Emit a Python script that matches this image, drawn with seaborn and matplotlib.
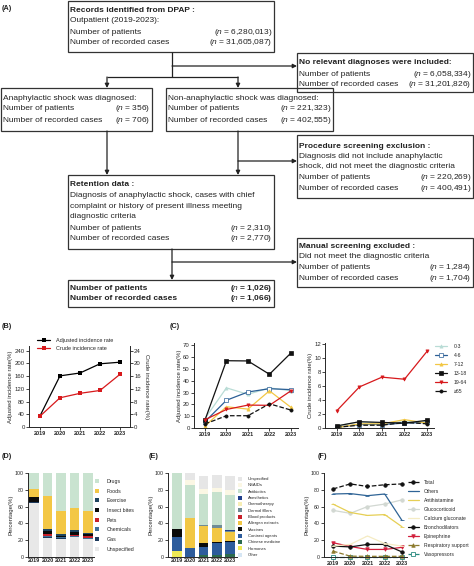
import matplotlib
matplotlib.use("Agg")
import matplotlib.pyplot as plt
import seaborn as sns
import numpy as np
import pandas as pd
from matplotlib.lines import Line2D
from matplotlib.patches import Rectangle

# ---------------- datos ----------------
years = [2019, 2020, 2021, 2022, 2023]
year_labels = ['2019', '2020', '2021', '2022', '2023']

# (B) tasas globales
adjusted_rate = [35, 161, 170, 199, 204]
crude_rate = [3.4, 9.2, 10.6, 11.5, 16.6]

# (C) por grupo de edad
age_groups = ['0-3', '4-6', '7-12', '13-18', '19-64', '≥65']
adjusted_by_age = {
    '0-3': [8, 34, 28.5, 34, 31.5],
    '4-6': [5.3, 23.5, 30.5, 33.3, 32.5],
    '7-12': [1.7, 18, 16, 31.5, 17.5],
    '13-18': [6.7, 57, 56.8, 45.5, 63.5],
    '19-64': [7, 15.7, 19.4, 19.2, 31.5],
    '≥65': [3.4, 10.4, 10.4, 20.5, 15.2],
}
crude_by_age = {
    '0-3': [0.3, 0.9, 0.7, 0.9, 0.9],
    '4-6': [0.1, 0.5, 0.5, 0.7, 0.8],
    '7-12': [0.05, 0.6, 0.6, 1.2, 0.7],
    '13-18': [0.3, 0.9, 0.8, 0.7, 1.1],
    '19-64': [2.5, 5.9, 7.3, 7.0, 11.0],
    '≥65': [0.1, 0.4, 0.4, 0.8, 0.6],
}

# (D) desencadenantes (orden de abajo hacia arriba)
trigger_names = ['Unspecified', 'Gas', 'Chemicals', 'Pets', 'Insect bites', 'Exercise', 'Foods', 'Drugs']
trigger_pct = {
    'Unspecified': [64.5, 22.8, 21.5, 24, 21],
    'Gas': [1, 1.2, 1, 0, 1],
    'Chemicals': [0, 1.2, 1.5, 0.5, 1],
    'Pets': [0, 2, 0, 1.5, 2],
    'Insect bites': [6.5, 4, 1.5, 4, 2],
    'Exercise': [0, 2, 1.5, 2, 2],
    'Foods': [9, 39.6, 28, 26, 26],
    'Drugs': [19, 27.2, 45, 42, 45],
}

# (E) farmacos (orden de abajo hacia arriba)
drug_names = ['Other', 'Hormones', 'Chinese medicine', 'Contrast agents', 'Vaccines',
              'Allergen extracts', 'Blood products', 'Dermal fillers', 'Chemotherapy',
              'Anesthetics', 'Antibiotics', 'NSAIDs', 'Unspecified']
drug_pct = {
    'Other': [0, 0, 0, 0, 0],
    'Hormones': [7, 0, 0, 0.5, 0],
    'Chinese medicine': [0, 0, 2, 1.5, 3],
    'Contrast agents': [17, 11, 10, 15, 15],
    'Vaccines': [9, 0, 5, 1, 1],
    'Allergen extracts': [0, 35, 20, 16, 11],
    'Blood products': [0, 0, 0, 0, 0.3],
    'Dermal fillers': [0, 0, 1, 4, 1],
    'Chemotherapy': [0, 0, 0, 0, 0],
    'Anesthetics': [0, 0, 0, 0, 0.8],
    'Antibiotics': [67, 40, 37, 39, 42],
    'NSAIDs': [0, 6, 6, 5, 6],
    'Unspecified': [0, 8, 15.5, 16, 15.9],
}

# (F) tratamientos
treat_names = ['Total', 'Others', 'Antihistamine', 'Glucocorticoid', 'Calcium gluconate',
               'Bronchodilators', 'Epinephrine', 'Respiratory support', 'Vasopressors']
treat_pct = {
    'Total': [81, 87, 84, 86, 87],
    'Others': [75, 75.5, 73, 75, 43.5],
    'Antihistamine': [63, 53, 49.5, 50.5, 36],
    'Glucocorticoid': [55.5, 52, 60, 63, 68],
    'Calcium gluconate': [13, 15, 25, 16, 13],
    'Bronchodilators': [13, 12, 15, 15, 6],
    'Epinephrine': [17, 12.5, 9, 9, 11.5],
    'Respiratory support': [7, 1, 0.8, 0.8, 0.8],
    'Vasopressors': [0, 0, 0, 0, 0],
}

# ---------------- estilo ----------------
sns.set_theme(style='ticks')
plt.rcParams['font.family'] = ['Liberation Sans', 'DejaVu Sans']
plt.rcParams['mathtext.fontset'] = 'custom'
plt.rcParams['mathtext.it'] = 'Liberation Sans:italic'
plt.rcParams['mathtext.rm'] = 'Liberation Sans'
plt.rcParams['axes.linewidth'] = 0.7

W, H = 474, 566
fig = plt.figure(figsize=(W / 100, H / 100), dpi=100, facecolor='white')


def px_axes(x0, y0, x1, y1):
    return fig.add_axes([x0 / W, 1 - y1 / H, (x1 - x0) / W, (y1 - y0) / H])


def style(ax, fs=4.3):
    ax.tick_params(labelsize=fs, length=2, width=0.6, pad=1)
    for s in ax.spines.values():
        s.set_linewidth(0.7)
    sns.despine(ax=ax)


def year_ticks(ax, pos, fs=4):
    ax.set_xticks(pos)
    ax.set_xticklabels(year_labels, fontsize=fs, fontweight='bold')


def fig_legend(ax, handles, labels, x, y, fs, spacing, hlen=2.0, pad=0.8):
    return ax.legend(handles, labels, loc='upper left', bbox_to_anchor=(x / W, 1 - y / H),
                     bbox_transform=fig.transFigure, frameon=False, fontsize=fs,
                     labelspacing=spacing, handlelength=hlen, handletextpad=pad,
                     borderpad=0, borderaxespad=0)


# ---------------- (A) diagrama de flujo ----------------
ax0 = fig.add_axes([0, 0, 1, 1])
ax0.set_xlim(0, W)
ax0.set_ylim(H, 0)
ax0.axis('off')

FS_BOX = 6.0
boxes = [
    ((68, 0.5, 274, 52), [(10, 'Records identified from DPAP :', None, True),
                          (21, 'Outpatient (2019-2023):', None, False),
                          (32, 'Number of patients', '6,280,013', False),
                          (43, 'Number of recorded cases', '31,605,087', False)]),
    ((297, 53, 473, 92), [(63, 'No relevant diagnoses were included:', None, True),
                          (74, 'Number of patients', '6,058,334', False),
                          (85, 'Number of recorded cases', '31,201,826', False)]),
    ((1, 88, 152, 131), [(98, 'Anaphylactic shock was diagnosed:', None, False),
                         (109, 'Number of patients', '356', False),
                         (120, 'Number of recorded cases', '706', False)]),
    ((166, 88, 333, 131), [(98, 'Non-anaphylactic shock was diagnosed:', None, False),
                           (109, 'Number of patients', '221,323', False),
                           (120, 'Number of recorded cases', '402,555', False)]),
    ((297, 135, 473, 198), [(146, 'Procedure screening exclusion :', None, True),
                            (157, 'Diagnosis did not include anaphylactic', None, False),
                            (167, 'shock, did not meet the diagnostic criteria', None, False),
                            (177.5, 'Number of patients', '220,269', False),
                            (188, 'Number of recorded cases', '400,491', False)]),
    ((68, 175, 274, 249), [(185, 'Retention data :', None, True),
                           (195.5, 'Diagnosis of anaphylactic shock, cases with chief', None, False),
                           (206, 'complaint or history of present illness meeting', None, False),
                           (217, 'diagnostic criteria', None, False),
                           (228, 'Number of patients', '2,310', False),
                           (238.5, 'Number of recorded cases', '2,770', False)]),
    ((297, 238, 473, 287), [(246.5, 'Manual screening excluded :', None, True),
                            (257, 'Did not meet the diagnostic criteria', None, False),
                            (267.5, 'Number of patients', '1,284', False),
                            (278, 'Number of recorded cases', '1,704', False)]),
    ((68, 280, 274, 307), [(288, 'Number of patients', '1,026', True),
                           (298.5, 'Number of recorded cases', '1,066', True)]),
]

for (x0, y0, x1, y1), lines in boxes:
    ax0.add_patch(Rectangle((x0, y0), x1 - x0, y1 - y0, fill=False, edgecolor='#333333', lw=0.9))
    for y, left, right, bold in lines:
        w = 'bold' if bold else 'normal'
        ax0.text(x0 + 2.5, y, left, fontsize=FS_BOX, fontweight=w, va='center', ha='left', color='#222222')
        if right is not None:
            ax0.text(x1 - 1.5, y, '($\\it{n}$ = ' + right + ')', fontsize=FS_BOX, fontweight=w,
                     va='center', ha='right', color='#222222')

arrow_kw = dict(arrowstyle='-|>', lw=0.9, color='#222222', mutation_scale=6, shrinkA=0, shrinkB=0)
line_kw = dict(color='#222222', lw=0.9, solid_capstyle='butt')

ax0.plot([172, 172], [52, 77], **line_kw)
ax0.annotate('', xy=(297, 66), xytext=(172, 66), arrowprops=arrow_kw)
ax0.plot([107, 238], [77, 77], **line_kw)
ax0.annotate('', xy=(107, 88), xytext=(107, 77), arrowprops=arrow_kw)
ax0.annotate('', xy=(238, 88), xytext=(238, 77), arrowprops=arrow_kw)
ax0.annotate('', xy=(107, 175), xytext=(107, 131), arrowprops=arrow_kw)
ax0.annotate('', xy=(238, 175), xytext=(238, 131), arrowprops=arrow_kw)
ax0.annotate('', xy=(297, 161), xytext=(238, 161), arrowprops=arrow_kw)
ax0.annotate('', xy=(172, 280), xytext=(172, 249), arrowprops=arrow_kw)
ax0.annotate('', xy=(297, 262), xytext=(172, 262), arrowprops=arrow_kw)

for lab, x, y in [('(A)', 2, 8), ('(B)', 2, 326), ('(C)', 170, 326),
                  ('(D)', 2, 456), ('(E)', 149, 456), ('(F)', 318, 456)]:
    ax0.text(x, y, lab, fontsize=5.2, fontweight='bold', va='center', ha='left', color='#222222')

# ---------------- (B) ----------------
axB = px_axes(29, 346, 130, 427)
sns.lineplot(x=years, y=adjusted_rate, ax=axB, color='black', marker='s', markersize=2.5,
             markeredgewidth=0, linewidth=0.9, legend=False)
axB.set_ylim(0, 255)
axB.set_yticks(range(0, 241, 40))
axB.set_xlim(2018.45, 2023.5)
axB.set_ylabel('Adjusted incidence rate(%)', fontsize=4.3, labelpad=1)
style(axB)
year_ticks(axB, years)
axB2 = axB.twinx()
sns.lineplot(x=years, y=crude_rate, ax=axB2, color='#d7191c', marker='s', markersize=2.5,
             markeredgewidth=0, linewidth=0.9, legend=False)
axB2.set_ylim(0, 25.5)
axB2.set_yticks(range(0, 25, 4))
axB2.set_ylabel('Crude incidence rate(%)', fontsize=4.3, labelpad=2, rotation=270, va='bottom')
axB2.tick_params(labelsize=4.3, length=2, width=0.6, pad=1)
for s in ['top', 'left', 'bottom']:
    axB2.spines[s].set_visible(False)
axB2.spines['right'].set_linewidth(0.7)
hB = [Line2D([], [], color='black', marker='s', markersize=2.5, mew=0, lw=0.9),
      Line2D([], [], color='#d7191c', marker='s', markersize=2.5, mew=0, lw=0.9)]
fig_legend(axB2, hB, ['Adjusted incidence rate', 'Crude incidence rate'], 37, 338, 4, 0.6, hlen=2.4, pad=1.0)

# ---------------- (C) ----------------
age_style = {
    '0-3': dict(color='#b9dcd6', marker='^', mfc='#b9dcd6', ls='-'),
    '4-6': dict(color='#2b5f96', marker='s', mfc='white', ls='-'),
    '7-12': dict(color='#f2c744', marker='^', mfc='#f2c744', ls='-'),
    '13-18': dict(color='#111111', marker='s', mfc='#111111', ls='-'),
    '19-64': dict(color='#d7191c', marker='v', mfc='#d7191c', ls='-'),
    '≥65': dict(color='#111111', marker='o', mfc='#111111', ls='--'),
}

axC1 = px_axes(194, 343, 298, 428)
axC2 = px_axes(325, 343, 434, 428)
for g in age_groups:
    st = age_style[g]
    for axc, data in [(axC1, adjusted_by_age), (axC2, crude_by_age)]:
        sns.lineplot(x=years, y=data[g], ax=axc, color=st['color'], marker=st['marker'],
                     markersize=2.3, markerfacecolor=st['mfc'], markeredgecolor=st['color'],
                     markeredgewidth=0.5, linewidth=0.9, linestyle=st['ls'], legend=False)
axC1.set_ylim(0, 72)
axC1.set_yticks(range(0, 71, 10))
axC1.set_xlim(2018.49, 2023.33)
axC1.set_ylabel('Adjusted incidence rate(%)', fontsize=4.3, labelpad=1)
style(axC1)
year_ticks(axC1, years)
axC2.set_ylim(0, 12.2)
axC2.set_yticks(range(0, 13, 2))
axC2.set_xlim(2018.47, 2023.31)
axC2.set_ylabel('Crude incidence rate(%)', fontsize=4.3, labelpad=1)
style(axC2)
year_ticks(axC2, years)
hC = [Line2D([], [], color=age_style[g]['color'], marker=age_style[g]['marker'], markersize=2.3,
             mfc=age_style[g]['mfc'], mec=age_style[g]['color'], mew=0.5, lw=0.9,
             ls=age_style[g]['ls']) for g in age_groups]
fig_legend(axC2, hC, age_groups, 435, 344, 3.7, 0.77, hlen=2.4, pad=1.2)

# ---------------- (D) ----------------
trigger_colors = {
    'Unspecified': '#e8e8e8', 'Gas': '#1d3a5c', 'Chemicals': '#3d6f98', 'Pets': '#c8202a',
    'Insect bites': '#0a0a0a', 'Exercise': '#1f4560', 'Foods': '#f3c745', 'Drugs': '#c9e3d0',
}
dfD = pd.DataFrame(trigger_pct, index=year_labels)
axD = px_axes(28, 473, 94, 557)
pos = np.arange(len(year_labels))
bottom = np.zeros(len(pos))
for name in trigger_names:
    axD.bar(pos, dfD[name].values, bottom=bottom, width=0.7, color=trigger_colors[name], linewidth=0)
    bottom += dfD[name].values
axD.set_xlim(-0.45, 4.45)
axD.set_ylim(0, 100)
axD.set_yticks(range(0, 101, 20))
axD.set_ylabel('Percentage(%)', fontsize=4.3, labelpad=1)
style(axD, fs=3.8)
axD.set_xticks(pos)
axD.set_xticklabels(year_labels, fontsize=4, fontweight='bold')
axD.tick_params(axis='x', length=0)
hD = [Line2D([], [], marker='s', ls='none', markersize=2.6, color=trigger_colors[n], mew=0)
      for n in trigger_names[::-1]]
fig_legend(axD, hD, trigger_names[::-1], 95, 479, 3.8, 0.88, hlen=0.8, pad=1.4)

# ---------------- (E) ----------------
drug_colors = {
    'Other': '#d6e6f4', 'Hormones': '#eeea55', 'Chinese medicine': '#2c6b4e',
    'Contrast agents': '#2d5c9c', 'Vaccines': '#0a0a0a', 'Allergen extracts': '#f2c744',
    'Blood products': '#c8202a', 'Dermal fillers': '#6f8c96', 'Chemotherapy': '#f7eeb5',
    'Anesthetics': '#1f3f8c', 'Antibiotics': '#c6e1cd', 'NSAIDs': '#fbf7e4',
    'Unspecified': '#e6e6e6',
}
dfE = pd.DataFrame(drug_pct, index=year_labels)
axE = px_axes(168, 473, 237, 557)
bottom = np.zeros(len(pos))
for name in drug_names:
    axE.bar(pos, dfE[name].values, bottom=bottom, width=0.75, color=drug_colors[name], linewidth=0)
    bottom += dfE[name].values
axE.set_xlim(-0.68, 4.53)
axE.set_ylim(0, 100)
axE.set_yticks(range(0, 101, 20))
axE.set_ylabel('Percentage(%)', fontsize=4.3, labelpad=1)
style(axE, fs=3.8)
axE.set_xticks(pos)
axE.set_xticklabels(year_labels, fontsize=4, fontweight='bold')
axE.tick_params(axis='x', length=0)
hE = [Line2D([], [], marker='s', ls='none', markersize=2.2, color=drug_colors[n], mew=0)
      for n in drug_names[::-1]]
fig_legend(axE, hE, drug_names[::-1], 238, 477, 3.0, 0.56, hlen=0.8, pad=1.5)

# ---------------- (F) ----------------
treat_style = {
    'Total': dict(color='#111111', marker='o', mfc='#111111', ls='--'),
    'Others': dict(color='#2f6496', marker='_', mfc='#2f6496', ls='-'),
    'Antihistamine': dict(color='#e6cf55', marker='_', mfc='#e6cf55', ls='-'),
    'Glucocorticoid': dict(color='#d2d8d2', marker='o', mfc='#d2d8d2', ls='-'),
    'Calcium gluconate': dict(color='#f5ecc4', marker='_', mfc='#f5ecc4', ls='-'),
    'Bronchodilators': dict(color='#111111', marker='o', mfc='#111111', ls='-'),
    'Epinephrine': dict(color='#d21f3c', marker='v', mfc='#d21f3c', ls='-'),
    'Respiratory support': dict(color='#8c7a2c', marker='^', mfc='#8c7a2c', ls='--'),
    'Vasopressors': dict(color='#2a8a80', marker='s', mfc='white', ls='--'),
}
axF = px_axes(324, 473, 407, 557)
for name in treat_names[::-1]:
    st = treat_style[name]
    sns.lineplot(x=years, y=treat_pct[name], ax=axF, color=st['color'], marker=st['marker'],
                 markersize=2.5, markerfacecolor=st['mfc'], markeredgecolor=st['color'],
                 markeredgewidth=0.6, linewidth=0.9, linestyle=st['ls'], legend=False, clip_on=False)
axF.set_xlim(2018.48, 2023.29)
axF.set_ylim(0, 100)
axF.set_yticks(range(0, 101, 20))
axF.set_ylabel('Percentage(%)', fontsize=4.3, labelpad=1)
style(axF, fs=3.8)
year_ticks(axF, years)
hF = [Line2D([], [], color=treat_style[n]['color'], marker=treat_style[n]['marker'], markersize=2.5,
             mfc=treat_style[n]['mfc'], mec=treat_style[n]['color'], mew=0.6, lw=0.9,
             ls=treat_style[n]['ls']) for n in treat_names]
fig_legend(axF, hF, treat_names, 408, 480, 3.6, 0.8, hlen=2.1, pad=1.0)

fig.savefig('out.png', dpi=100, facecolor='white')
